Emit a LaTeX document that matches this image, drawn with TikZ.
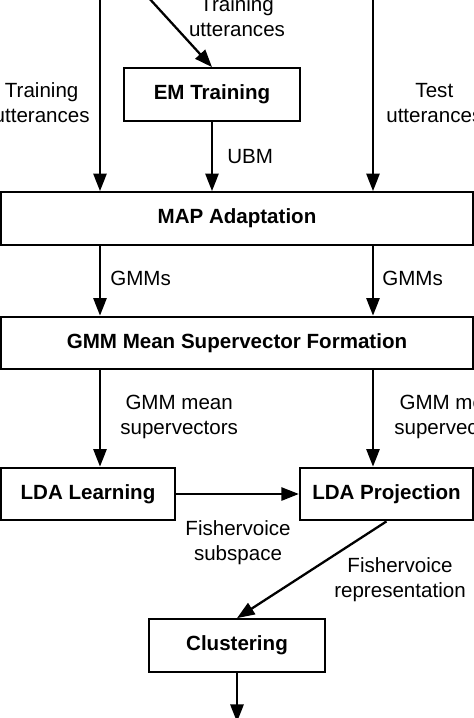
\documentclass[tikz,border=0pt]{standalone}
\usepackage{fontspec}
\setmainfont{Liberation Sans}
\usetikzlibrary{arrows.meta}

\begin{document}
\begin{tikzpicture}[
  x=0.02cm, y=-0.02cm,
  >={Triangle[length=10pt,width=7.5pt]},
  every node/.style={font=\fontsize{11.7}{14.2}\selectfont},
  block/.style={draw, line width=1.3pt, inner sep=0pt,
    minimum height=1.05cm, font=\fontsize{11.7}{14.2}\selectfont\bfseries},
  flow/.style={line width=1.3pt,->},
  lbl/.style={align=center, inner sep=0pt}
]

% Picture frame: the diagram is cut at the page edges
\useasboundingbox (0,0) rectangle (474,718);
\clip (0,0) rectangle (474,718);

% ------------------------------------------------------------
% Inputs and UBM training
% ------------------------------------------------------------
\coordinate (inL) at (100,-5);
\coordinate (inC) at (148,-3);
\coordinate (inR) at (373,-5);

\node[block, minimum width=3.52cm] (em) at (212,94.5) {EM Training};

\node[lbl] (lblTrainC) at (237,17) {Training\\utterances};
\node[lbl, anchor=east] (lblTrainL) at (90,103) {Training\\utterances};
\node[lbl, anchor=west] (lblTest) at (386,103) {Test\\utterances};
\node[lbl, anchor=west] (lblUbm) at (227,157) {UBM};

% ------------------------------------------------------------
% MAP adaptation and supervector formation
% ------------------------------------------------------------
\node[block, minimum width=9.44cm] (map) at (237,218.5) {MAP Adaptation};
\node[block, minimum width=9.44cm] (gmm) at (237,343)
  {GMM Mean Supervector Formation};

\node[lbl, anchor=west] (lblGmmL) at (110,278) {GMMs};
\node[lbl, anchor=west] (lblGmmR) at (382,278) {GMMs};

% ------------------------------------------------------------
% LDA and clustering
% ------------------------------------------------------------
\node[block, minimum width=3.48cm] (lda1) at (88,494) {LDA Learning};
\node[block, minimum width=3.46cm] (lda2) at (386.5,494) {LDA Projection};
\node[block, minimum width=3.52cm] (clu) at (237,645.5) {Clustering};
\coordinate (out) at (237,722);

\node[lbl, anchor=west] (lblSvL) at (120,417) {GMM mean\\supervectors};
\node[lbl, anchor=west] (lblSvR) at (394,417) {GMM mean\\supervectors};
\node[lbl] (lblSub) at (238,543) {Fishervoice\\subspace};
\node[lbl] (lblRep) at (400,580) {Fishervoice\\representation};

% Connectors
\draw[flow] (inC) -- (em.north);
\draw[flow] (inL) -- (inL |- map.north);
\draw[flow] (em.south) -- (em.south |- map.north);
\draw[flow] (inR) -- (inR |- map.north);

\draw[flow] (map.south -| inL) -- (gmm.north -| inL);
\draw[flow] (map.south -| inR) -- (gmm.north -| inR);

\draw[flow] (gmm.south -| inL) -- (lda1.north -| inL);
\draw[flow] (gmm.south -| inR) -- (lda2.north -| inR);

\draw[flow] (lda1.east) -- (lda2.west);
\draw[flow] (lda2.south) -- (clu.north);
\draw[flow] (clu.south) -- (out);

\end{tikzpicture}
\end{document}
